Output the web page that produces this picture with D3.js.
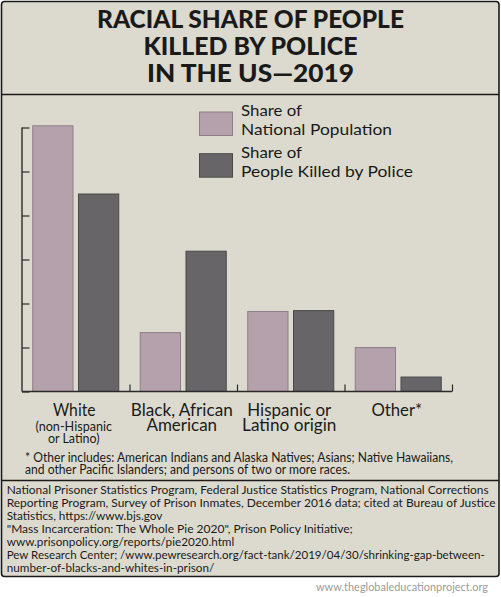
<!DOCTYPE html>
<html>
<head>
<meta charset="utf-8">
<script src="https://cdn.jsdelivr.net/npm/d3@7"></script>
<style>
  html, body { margin: 0; padding: 0; background: #fff; }
  svg { display: block; font-family: Lato, "Open Sans", sans-serif; }
</style>
</head>
<body>
<svg id="s" width="501" height="597"></svg>
<script>
// Data
const categories = ["White", "Black", "Hispanic", "Other"],
  series = ["Share of National Population", "Share of People Killed by Police"],
  populationShare = [60.5, 13.5, 18.3, 10.1],
  killedShare = [45, 32, 18.5, 3.4],
  yTicks = [0, 10, 20, 30, 40, 50, 60],
  titleLines = ["RACIAL SHARE OF PEOPLE", "KILLED BY POLICE", "IN THE US\u20142019"],
  legendLines = [["Share of", "National Population"], ["Share of", "People Killed by Police"]],
  categoryLabels = [
    ["White"],
    ["Black, African", "American"],
    ["Hispanic or", "Latino origin"],
    ["Other*"]
  ],
  whiteNote = ["(non-Hispanic", "or Latino)"],
  footnote = [
    "* Other includes: American Indians and Alaska Natives; Asians; Native Hawaiians,",
    "and other Pacific Islanders; and persons of two or more races."
  ],
  sources = [
    "National Prisoner Statistics Program, Federal Justice Statistics Program, National Corrections",
    "Reporting Program, Survey of Prison Inmates, December 2016 data; cited at Bureau of Justice",
    "Statistics, https://www.bjs.gov",
    "\"Mass Incarceration: The Whole Pie 2020\", Prison Policy Initiative;",
    "www.prisonpolicy.org/reports/pie2020.html",
    "Pew Research Center; /www.pewresearch.org/fact-tank/2019/04/30/shrinking-gap-between-",
    "number-of-blacks-and-whites-in-prison/"
  ],
  credit = "www.theglobaleducationproject.org";

const colors = { bg: "#dcdace", pop: "#b5a1ab", popEdge: "#8d7e86", kill: "#676567", killEdge: "#4b4a4b", ink: "#1a1a1a" };

const svg = d3.select("#s");

// squeeze a text to the width it has in the picture
const fit = (sel, w) => sel.attr("textLength", w).attr("lengthAdjust", "spacingAndGlyphs");

// Frame
svg.append("rect")
  .attr("x", 1.5).attr("y", 1.5).attr("width", 497.5).attr("height", 575)
  .attr("rx", 3)
  .attr("fill", colors.bg).attr("stroke", colors.ink).attr("stroke-width", 1.6);
svg.append("line").attr("x1", 1.5).attr("x2", 499).attr("y1", 94.5).attr("y2", 94.5)
  .attr("stroke", colors.ink).attr("stroke-width", 1.4);
svg.append("line").attr("x1", 1.5).attr("x2", 499).attr("y1", 480.5).attr("y2", 480.5)
  .attr("stroke", colors.ink).attr("stroke-width", 1.4);

// Title
const titleW = [307, 214, 207];
titleLines.forEach((t, i) => {
  svg.append("text")
    .attr("x", 250.5).attr("y", 27.5 + i * 27.3)
    .attr("text-anchor", "middle")
    .attr("font-weight", 900).attr("font-size", 24)
    .attr("fill", colors.ink)
    .text(t)
    .call(fit, titleW[i]);
});

// Scales
const x = d3.scaleBand().domain(categories).range([22, 452]),
  xs = d3.scaleBand().domain(series).range([0, x.bandwidth()]).paddingInner(0.098).paddingOuter(0.224),
  y = d3.scaleLinear().domain([0, 60]).range([391.5, 127.5]);

// Bars
const rows = categories.map((c, i) => ({ c, vals: [populationShare[i], killedShare[i]] }));
const g = svg.append("g");
g.selectAll("g.cat").data(rows).join("g")
  .attr("class", "cat")
  .attr("transform", d => `translate(${x(d.c)},0)`)
  .selectAll("rect").data(d => d.vals.map((v, j) => ({ s: series[j], v, j })))
  .join("rect")
  .attr("x", d => xs(d.s) + 0.5)
  .attr("width", xs.bandwidth() - 1)
  .attr("y", d => y(d.v) + 0.5)
  .attr("height", d => y(0) - y(d.v) - 0.5)
  .attr("fill", d => d.j ? colors.kill : colors.pop)
  .attr("stroke", d => d.j ? colors.killEdge : colors.popEdge)
  .attr("stroke-width", 1);

// Axes
const yAxis = svg.append("g").attr("transform", "translate(22,0)")
  .call(d3.axisRight(y).tickValues(yTicks).tickSize(7.5).tickFormat(""));
yAxis.select(".domain").attr("d", `M0,${y(60)}V${y(0)}`);
const xAxis = svg.append("g").attr("transform", `translate(0,${y(0)})`)
  .call(d3.axisTop(d3.scaleLinear().domain([0, 4]).range([22, 452])).ticks(4).tickSize(7).tickFormat(""));
xAxis.select(".domain").attr("d", "M22,0H452");
svg.selectAll(".domain").attr("stroke", "#2a2a2a").attr("stroke-width", 1.4);
svg.selectAll(".tick line").attr("stroke", "#2a2a2a").attr("stroke-width", 1.2);
xAxis.selectAll(".tick").filter(d => d === 0).remove();

// Category labels
const catW = [[42.6], [102, 70.6], [84, 94.4], [50.7]];
categoryLabels.forEach((lines, i) => {
  const cx = x(categories[i]) + x.bandwidth() / 2 - 1.5;
  lines.forEach((t, k) => {
    svg.append("text")
      .attr("x", cx).attr("y", 415.5 + k * 15.5)
      .attr("text-anchor", "middle").attr("font-size", 16.5)
      .attr("fill", colors.ink)
      .text(t)
      .call(fit, catW[i][k]);
  });
});
const noteW = [76.7, 51.6];
whiteNote.forEach((t, k) => {
  svg.append("text")
    .attr("x", x("White") + x.bandwidth() / 2 - 2).attr("y", 431 + k * 11.5)
    .attr("text-anchor", "middle").attr("font-size", 13)
    .attr("fill", colors.ink)
    .text(t)
    .call(fit, noteW[k]);
});

// Legend
legendLines.forEach((lines, i) => {
  const top = 112 + i * 41.7;
  svg.append("rect")
    .attr("x", 199.5).attr("y", top).attr("width", 33).attr("height", 23.5)
    .attr("fill", i ? colors.kill : colors.pop)
    .attr("stroke", i ? colors.killEdge : colors.popEdge);
  lines.forEach((t, k) => {
    svg.append("text")
      .attr("x", 241).attr("y", top + 4 + k * 19)
      .attr("font-size", 16)
      .attr("fill", colors.ink)
      .text(t)
      .call(fit, [[61, 151], [61, 172]][i][k]);
  });
});

// Footnote
const footW = [428, 325];
footnote.forEach((t, k) => {
  svg.append("text")
    .attr("x", 25).attr("y", 461.7 + k * 12.7)
    .attr("font-size", 12.5).attr("fill", colors.ink)
    .text(t)
    .call(fit, footW[k]);
});

// Sources
const srcW = [482, 489, 155.6, 346, 227.6, 478, 207.6];
sources.forEach((t, k) => {
  svg.append("text")
    .attr("x", 6.7).attr("y", 494.4 + k * 13)
    .attr("font-size", 11.5).attr("fill", colors.ink)
    .text(t)
    .call(fit, srcW[k]);
});

// Credit
svg.append("text")
  .attr("x", 488).attr("y", 590.5)
  .attr("text-anchor", "end").attr("font-size", 11.5)
  .attr("fill", "#9b9b9b")
  .text(credit)
  .call(fit, 172);
</script>
</body>
</html>
